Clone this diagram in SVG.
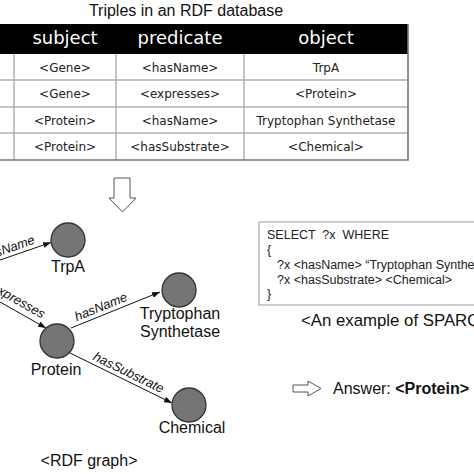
<svg xmlns="http://www.w3.org/2000/svg" width="474" height="474" viewBox="0 0 474 474">
<style>
  .title { font-family: "Liberation Sans", Arial, sans-serif; font-size: 16px; fill: #111; }
  .hdr { font-family: "DejaVu Sans", sans-serif; font-size: 18px; fill: #fff; text-anchor: middle; }
  .cell { font-family: "DejaVu Sans", sans-serif; font-size: 12px; fill: #222; text-anchor: middle; }
  .grid { stroke: #b0b0b0; stroke-width: 1.5; fill: none; }
  .node circle { fill: #757575; stroke: #333; stroke-width: 1.3; }
  .nlabel { font-family: "Liberation Sans", Arial, sans-serif; font-size: 16px; fill: #111; text-anchor: middle; }
  .edge { stroke: #111; stroke-width: 1; fill: none; marker-end: url(#arr); }
  .elabel { font-family: "Liberation Sans", Arial, sans-serif; font-size: 13px; font-style: italic; fill: #111; }
  .code { font-family: "Liberation Sans", Arial, sans-serif; font-size: 12.5px; fill: #222; }
  .cap { font-family: "Liberation Sans", Arial, sans-serif; font-size: 16px; fill: #111; }
  .outline { fill: #fff; stroke: #555; stroke-width: 1; }
</style>
<defs>
  <marker id="arr" markerWidth="8" markerHeight="6" refX="8" refY="3" orient="auto" markerUnits="userSpaceOnUse">
    <path d="M0,0 L8,3 L0,6 z" fill="#111"/>
  </marker>
</defs>
<rect width="474" height="474" fill="#fff"/>

<text class="title" x="186" y="16" text-anchor="middle">Triples in an RDF database</text>

<g id="table">
  <rect x="-2" y="24" width="410" height="30" fill="#000"/>
  <text class="hdr" x="65" y="44">subject</text>
  <text class="hdr" x="180" y="44">predicate</text>
  <text class="hdr" x="326" y="44">object</text>
  <line class="grid" x1="-2" y1="80" x2="408" y2="80"/>
  <line class="grid" x1="-2" y1="107" x2="408" y2="107"/>
  <line class="grid" x1="-2" y1="133" x2="408" y2="133"/>
  <line class="grid" x1="14" y1="54" x2="14" y2="160"/>
  <line class="grid" x1="116" y1="54" x2="116" y2="160"/>
  <line class="grid" x1="244" y1="54" x2="244" y2="160"/>
  <polyline points="-2,160 408,160 408,24" fill="none" stroke="#777" stroke-width="1.6"/>
  <text class="cell" x="65" y="71.5">&lt;Gene&gt;</text>
  <text class="cell" x="180" y="71.5">&lt;hasName&gt;</text>
  <text class="cell" x="326" y="71.5">TrpA</text>
  <text class="cell" x="65" y="98">&lt;Gene&gt;</text>
  <text class="cell" x="180" y="98">&lt;expresses&gt;</text>
  <text class="cell" x="326" y="98">&lt;Protein&gt;</text>
  <text class="cell" x="65" y="124.5">&lt;Protein&gt;</text>
  <text class="cell" x="180" y="124.5">&lt;hasName&gt;</text>
  <text class="cell" x="326" y="124.5">Tryptophan Synthetase</text>
  <text class="cell" x="65" y="151">&lt;Protein&gt;</text>
  <text class="cell" x="180" y="151">&lt;hasSubstrate&gt;</text>
  <text class="cell" x="326" y="151">&lt;Chemical&gt;</text>
</g>

<polygon class="outline" points="114,178 130,178 130,198 136,198 122.5,212 109,198 114,198"/>

<g id="connectors">
  <line class="edge" x1="-30" y1="270.4" x2="51" y2="242.4"/>
  <text class="elabel" text-anchor="end" transform="translate(37,247.2) rotate(-19.1)" y="-4">hasName</text>
  <line class="edge" x1="-30" y1="285" x2="46" y2="328"/>
  <text class="elabel" text-anchor="end" transform="translate(39,324) rotate(29.5)" y="-6">expresses</text>
  <line class="edge" x1="71" y1="328" x2="160" y2="292"/>
  <text class="elabel" text-anchor="middle" transform="translate(104,314.5) rotate(-22)" y="-4">hasName</text>
  <line class="edge" x1="68" y1="352" x2="172" y2="403"/>
  <text class="elabel" text-anchor="middle" transform="translate(125,380) rotate(26.1)" y="-4">hasSubstrate</text>
</g>

<g id="node-trpa" class="node">
  <circle cx="68" cy="240" r="17"/>
  <text class="nlabel" x="68" y="272">TrpA</text>
</g>
<g id="node-tryptophan" class="node">
  <circle cx="179" cy="290" r="17"/>
  <text class="nlabel" x="180" y="319">Tryptophan</text>
  <text class="nlabel" x="180" y="337">Synthetase</text>
</g>
<g id="node-protein" class="node">
  <circle cx="57" cy="341" r="17"/>
  <text class="nlabel" x="56" y="375">Protein</text>
</g>
<g id="node-chemical" class="node">
  <circle cx="189" cy="405" r="17"/>
  <text class="nlabel" x="192" y="433">Chemical</text>
</g>

<text class="cap" x="89" y="466" text-anchor="middle">&lt;RDF graph&gt;</text>

<g id="sparql">
  <rect x="259" y="222" width="230" height="83" fill="#fff" stroke="#999" stroke-width="1"/>
  <text class="code" x="267" y="239" xml:space="preserve">SELECT  ?x  WHERE</text>
  <text class="code" x="267" y="254">{</text>
  <text class="code" x="277" y="269">?x &lt;hasName&gt; “Tryptophan Synthetase”</text>
  <text class="code" x="277" y="284">?x &lt;hasSubstrate&gt; &lt;Chemical&gt;</text>
  <text class="code" x="267" y="298">}</text>
</g>
<text class="cap" x="301" y="326" style="font-size:16.8px">&lt;An example of SPARQL query&gt;</text>

<polygon class="outline" points="293,385 308,385 308,381 321,388.5 308,396 308,392 293,392"/>
<text class="cap" x="333" y="394">Answer: <tspan font-weight="bold">&lt;Protein&gt;</tspan></text>
</svg>
